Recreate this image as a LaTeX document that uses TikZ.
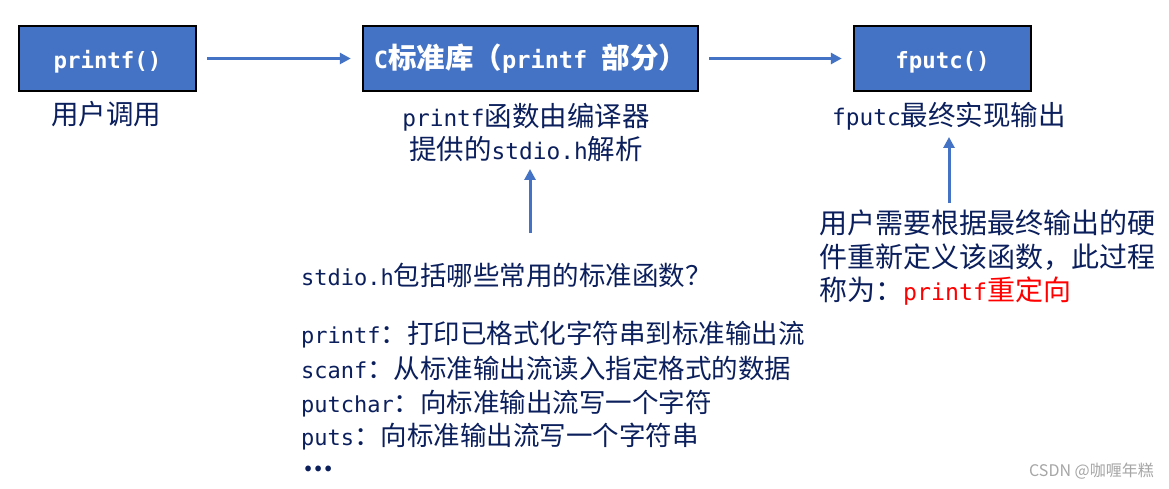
\documentclass[tikz,border=0pt]{standalone}
\usepackage{fontspec}
\setmainfont{Noto Sans CJK SC}
\newfontfamily\monofam[Scale=0.83]{DejaVu Sans Mono}
\newcommand{\lat}[1]{{\monofam #1}}
\usetikzlibrary{arrows.meta}
\definecolor{boxblue}{HTML}{4472C4}
\definecolor{txt}{HTML}{0B1F5C}
\definecolor{wm}{HTML}{A6A6A6}
\tikzset{
  box/.style={draw=black, line width=2.5pt, fill=boxblue, minimum height=65pt,
    text=white, font=\fontsize{27}{32}\selectfont\bfseries, inner sep=0pt,
    text height=22pt, text depth=2pt},
  lbl/.style={text=txt, inner sep=0pt, anchor=base, font=\fontsize{27.5}{33}\selectfont},
  note/.style={text=txt, inner sep=0pt, anchor=base west, font=\fontsize{28}{33}\selectfont},
  list/.style={text=txt, inner sep=0pt, anchor=base west, font=\fontsize{26.5}{33}\selectfont},
  arr/.style={draw=boxblue, line width=3pt, -{Triangle[length=11pt,width=11pt]}},
}
\begin{document}
\begin{tikzpicture}[x=1pt,y=-1pt]
\useasboundingbox[fill=white] (0,0) rectangle (1169,489);
% boxes
\node[box, minimum width=177pt] (b1) at (107.5,58.5) {\lat{printf()}};
\node[box, minimum width=335pt, font=\fontsize{28.5}{32}\selectfont\bfseries] (b2) at (530.5,58.5) {\lat{C}标准库（\lat{printf }部分）};
\node[box, minimum width=177pt] (b3) at (942.5,58.5) {\lat{fputc()}};
% horizontal arrows
\draw[arr, shorten <=10pt, shorten >=11pt] (b1.east) -- (b2.west);
\draw[arr, shorten <=10pt, shorten >=11pt] (b2.east) -- (b3.west);
% labels under boxes
\node[lbl] (l1) at (106,125) {用户调用};
\node[lbl] (l2a) at (526,127) {\lat{printf}函数由编译器};
\node[lbl] (l2b) at (526,160) {提供的\lat{stdio.h}解析};
\node[lbl] (l3) at (949,126) {\lat{fputc}最终实现输出};
% right note
\node[note] (n1) at (819,233) {用户需要根据最终输出的硬};
\node[note] (n2) at (819,267) {件重新定义该函数，此过程};
\node[note] (n3) at (819,300) {称为：\textcolor{red}{\lat{printf}重定向}};
% bottom list
\node[list] (q)  at (301,285) {\lat{stdio.h}包括哪些常用的标准函数？};
\node[list] (f1) at (301,343) {\lat{printf}：打印已格式化字符串到标准输出流};
\node[list] (f2) at (301,378) {\lat{scanf}：从标准输出流读入指定格式的数据};
\node[list] (f3) at (301,412) {\lat{putchar}：向标准输出流写一个字符};
\node[list] (f4) at (301,445) {\lat{puts}：向标准输出流写一个字符串};
\node[list, font=\fontsize{26.5}{33}\selectfont\bfseries] (f5) at (303,471) {…};
% vertical arrows
\coordinate (u1a) at (530,233);
\coordinate (u1b) at (530,169);
\draw[arr] (u1a) -- (u1b);
\coordinate (u2a) at (949,203);
\coordinate (u2b) at (949,137);
\draw[arr] (u2a) -- (u2b);
% watermark
\node[text=wm, inner sep=0pt, anchor=base east, font=\fontsize{16}{18}\selectfont] (wmk) at (1154,476) {CSDN @咖喱年糕};
\end{tikzpicture}
\end{document}
